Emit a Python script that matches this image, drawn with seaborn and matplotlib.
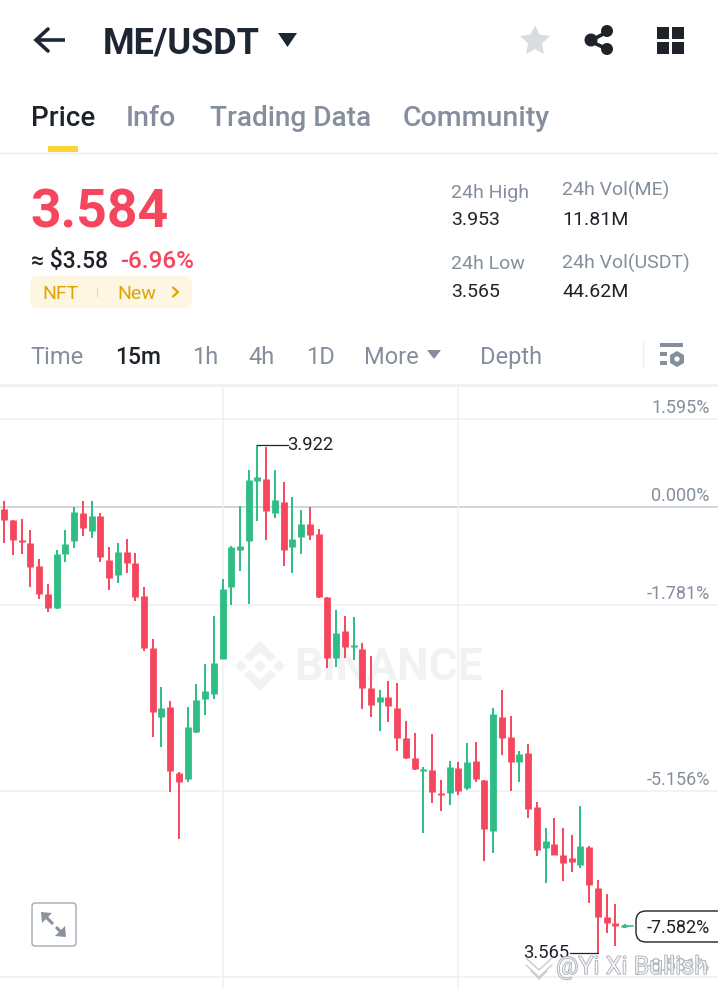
import pandas as pd
import seaborn as sns
import matplotlib.pyplot as plt
from matplotlib.patches import FancyBboxPatch, Polygon, Rectangle, Circle, RegularPolygon
import matplotlib.patheffects as pe

# ME/USDT 15m candles
opens = [3.8766, 3.8688, 3.8547, 3.8526, 3.8364, 3.8165, 3.8069, 3.8449, 3.8540, 3.8735, 3.8611, 3.8716,
         3.8407, 3.8299, 3.8465, 3.8386, 3.8156, 3.7785, 3.7304, 3.7372, 3.6909, 3.6865, 3.7193, 3.7426,
         3.7466, 3.7707, 3.8219, 3.8479, 3.8540, 3.8961, 3.8977, 3.8740, 3.8817, 3.8501, 3.8571, 3.8658,
         3.8587, 3.8144, 3.7717, 3.7904, 3.7796, 3.7782, 3.7503, 3.7405, 3.7442, 3.7362, 3.7151, 3.7010,
         3.6923, 3.6928, 3.6768, 3.6764, 3.6940, 3.6804, 3.6989, 3.6860, 3.6501, 3.7301, 3.7160, 3.6984,
         3.7050, 3.6667, 3.6381, 3.6409, 3.6327, 3.6306, 3.6261, 3.6388, 3.6095, 3.5893, 3.5853, 3.5820]
closes = [3.8691, 3.8550, 3.8536, 3.8360, 3.8170, 3.8069, 3.8447, 3.8517, 3.8747, 3.8630, 3.8716, 3.8430,
          3.8278, 3.8465, 3.8388, 3.8148, 3.7785, 3.7334, 3.7362, 3.6923, 3.6844, 3.7231, 3.7421, 3.7482,
          3.7681, 3.8205, 3.8496, 3.8508, 3.8968, 3.8989, 3.8752, 3.8827, 3.8479, 3.8557, 3.8658, 3.8580,
          3.8148, 3.7717, 3.7893, 3.7796, 3.7808, 3.7505, 3.7386, 3.7442, 3.7376, 3.7153, 3.7013, 3.6935,
          3.6935, 3.6773, 3.6752, 3.6949, 3.6783, 3.6982, 3.6862, 3.6512, 3.7322, 3.7156, 3.6984, 3.7041,
          3.6653, 3.6369, 3.6428, 3.6332, 3.6271, 3.6282, 3.6397, 3.6121, 3.5891, 3.5851, 3.5832, 3.5830]
highs = [3.8820, 3.8688, 3.8698, 3.8618, 3.8416, 3.8235, 3.8475, 3.8618, 3.8777, 3.8820, 3.8820, 3.8735,
         3.8496, 3.8526, 3.8557, 3.8456, 3.8214, 3.7853, 3.7512, 3.7412, 3.6916, 3.7369, 3.7531, 3.7672,
         3.8015, 3.8275, 3.8508, 3.8787, 3.9038, 3.9219, 3.9200, 3.9038, 3.8958, 3.8848, 3.8759, 3.8777,
         3.8627, 3.8144, 3.8052, 3.8015, 3.8003, 3.7822, 3.7733, 3.7489, 3.7552, 3.7543, 3.7271, 3.7191,
         3.6949, 3.7182, 3.6860, 3.6989, 3.6982, 3.7121, 3.7123, 3.6860, 3.7362, 3.7491, 3.7310, 3.7062,
         3.7109, 3.6700, 3.6517, 3.6588, 3.6517, 3.6468, 3.6677, 3.6397, 3.6156, 3.6055, 3.5984, 3.5832]
lows = [3.8529, 3.8440, 3.8449, 3.8219, 3.8130, 3.8038, 3.8059, 3.8390, 3.8489, 3.8578, 3.8559, 3.8390,
        3.8198, 3.8247, 3.8317, 3.8118, 3.7768, 3.7163, 3.7092, 3.6771, 3.6440, 3.6844, 3.7186, 3.7313,
        3.7426, 3.7707, 3.8087, 3.8327, 3.8099, 3.8681, 3.8550, 3.8700, 3.8367, 3.8317, 3.8449, 3.8550,
        3.8137, 3.7646, 3.7656, 3.7717, 3.7705, 3.7355, 3.7304, 3.7205, 3.7264, 3.7064, 3.7003, 3.6928,
        3.6482, 3.6693, 3.6642, 3.6684, 3.6752, 3.6785, 3.6841, 3.6290, 3.6341, 3.7034, 3.6782, 3.6841,
        3.6592, 3.6320, 3.6130, 3.6330, 3.6149, 3.6210, 3.6240, 3.5989, 3.5640, 3.5778, 3.5689, 3.5813]

base_price = 3.878
pct_levels = [1.595, 0.0, -1.781, -5.156, -8.531]
pct_labels = ['1.595%', '0.000%', '-1.781%', '-5.156%', '-8.531%']
grid_candles = [25, 52]
high_label = '3.922'
low_label = '3.565'
last_label = '-7.582%'

RED = '#F6465D'
GREEN = '#2EBD85'
DARK = '#1E2329'
GRAY = '#848E9C'
NAVY = '#1E2633'

sns.set_theme(style='white')
plt.rcParams['font.family'] = ['Roboto', 'Noto Sans', 'DejaVu Sans']

W, H = 718, 989
fig = plt.figure(figsize=(W / 100, H / 100), dpi=100, facecolor='white')

# page furniture is laid out in pixels
ui = fig.add_axes([0, 0, 1, 1], zorder=0)
ui.set_xlim(0, W)
ui.set_ylim(H, 0)
ui.axis('off')


def label(x, y, s, size, color=GRAY, weight='normal', ha='left', **kw):
    return ui.text(x, y, s, fontsize=size, color=color, fontweight=weight, ha=ha, va='baseline', **kw)


# header
ui.plot([37, 65], [40, 40], color=NAVY, lw=2.6, solid_capstyle='butt')
ui.plot([48, 36, 48], [29, 40, 51], color=NAVY, lw=2.6, solid_joinstyle='miter')
label(103, 53, 'ME/USDT', 26, NAVY, 'bold')
ui.add_patch(Polygon([[278, 33], [297, 33], [287.5, 47]], color=NAVY, lw=0))
ui.add_patch(Polygon([[535, 25], [539.5, 34.5], [550, 36], [542, 43.5], [544, 54], [535, 49], [526, 54], [528, 43.5],
                      [520, 36], [530.5, 34.5]], color='#D9DDE2', lw=0))
ui.plot([609, 590, 609], [31, 41, 50], color=DARK, lw=2.6)
for cx, cy, r in [(607, 31, 6), (591, 40, 6.5), (607, 49, 6)]:
    ui.add_patch(Circle((cx, cy), r, color=DARK, lw=0))
for gx, gy in [(657, 27), (672, 27), (657, 42), (672, 42)]:
    ui.add_patch(Rectangle((gx, gy), 11.5, 11.5, color=DARK, lw=0))

# tabs
label(31, 126, 'Price', 20, DARK, 'medium')
label(126, 126, 'Info', 20.5, GRAY, 'medium')
label(210, 126, 'Trading Data', 20.2, GRAY, 'medium')
label(403, 126, 'Community', 20.5, GRAY, 'medium')
ui.add_patch(Rectangle((48, 146), 30, 6, color='#FCD535', lw=0))
ui.plot([0, W], [152.5, 152.5], color='#EAECEF', lw=1)

# price block
label(30, 227, '3.584', 38.5, RED, 'bold')
label(31, 268, '≈ $3.58', 16.5, DARK, 'medium')
label(120, 268, '-6.96%', 17.5, RED, 'medium')
ui.add_patch(FancyBboxPatch((36, 282), 150, 20, boxstyle='round,pad=6,rounding_size=8', fc='#FDF6E3', ec='none'))
label(42, 299, 'NFT', 14, '#DFA400')
ui.plot([97, 97], [288, 296], color='#EFDDA8', lw=1)
label(117, 299, 'New', 14, '#DFA400')
ui.plot([173, 178, 173], [287.5, 292, 296.5], color='#DFA400', lw=1.6)

label(451, 198, '24h High', 14)
label(562, 196, '24h Vol(ME)', 14)
label(451, 225, '3.953', 14, DARK)
label(562, 225, '11.81M', 14, DARK)
label(451, 269, '24h Low', 14)
label(562, 269, '24h Vol(USDT)', 14)
label(451, 297, '3.565', 14, DARK)
label(562, 297, '44.62M', 14, DARK)

# interval row
label(30, 364, 'Time', 17)
label(115, 364, '15m', 16.5, DARK, 'medium')
label(192, 364, '1h', 17)
label(248, 364, '4h', 17)
label(306, 364, '1D', 17)
label(364, 364, 'More', 17)
ui.add_patch(Polygon([[427, 350], [441, 350], [434, 359]], color=GRAY, lw=0))
label(480, 364, 'Depth', 17)
ui.plot([643, 643], [342, 367], color='#EAECEF', lw=1)
ui.add_patch(Rectangle((660, 343), 23, 3.5, color=GRAY, lw=0))
ui.add_patch(Rectangle((660, 352), 7, 3.5, color=GRAY, lw=0))
ui.add_patch(Rectangle((660, 361), 7, 3.5, color=GRAY, lw=0))
ui.add_patch(RegularPolygon((677, 359), 6, radius=8, color=GRAY, lw=0))
ui.add_patch(Circle((677, 359), 2.6, color='white', lw=0))
ui.plot([0, W], [385, 385], color='#EEF0F2', lw=2)

# binance watermark behind the candles
WM = '#F1F2F4'
lx, ly = 260, 666
for dx, dy, r in [(0, 0, 6), (-19, 0, 6), (19, 0, 6)]:
    ui.add_patch(Polygon([[lx + dx - r, ly + dy], [lx + dx, ly + dy - r], [lx + dx + r, ly + dy], [lx + dx, ly + dy + r]],
                         color=WM, lw=0))
ui.add_patch(Polygon([[lx, ly - 25], [lx + 16, ly - 9], [lx + 10, ly - 4], [lx, ly - 14], [lx - 10, ly - 4], [lx - 16, ly - 9]],
                     color=WM, lw=0))
ui.add_patch(Polygon([[lx, ly + 25], [lx + 16, ly + 9], [lx + 10, ly + 4], [lx, ly + 14], [lx - 10, ly + 4], [lx - 16, ly + 9]],
                     color=WM, lw=0))
label(294, 680, 'BINANCE', 32, WM, 'bold')

# candles, the axes run from the pane top to the bottom of the page
candles = pd.DataFrame({'open': opens, 'high': highs, 'low': lows, 'close': closes})
candles['idx'] = candles.index
candles['dir'] = ['up' if c >= o else 'down' for o, c in zip(candles['open'], candles['close'])]
palette = {'up': GREEN, 'down': RED}

top_h = 1 - 385 / H
ax = fig.add_axes([0, 0, 1, top_h], zorder=1)
ax.patch.set_alpha(0)

for lev in pct_levels:
    price = base_price * (1 + lev / 100)
    ax.axhline(price, color='#D2D5D9' if lev == 0 else '#EEF0F2', lw=1.4 if lev == 0 else 1.1, zorder=0)
for c in grid_candles:
    ax.axvline(c, color='#EEF0F2', lw=1.1, zorder=0)

wicks = candles.melt(id_vars=['idx', 'dir'], value_vars=['high', 'low'], value_name='price')
bodies = candles.melt(id_vars=['idx', 'dir'], value_vars=['open', 'close'], value_name='price')
sns.lineplot(data=wicks, x='idx', y='price', units='idx', estimator=None, hue='dir', palette=palette,
             linewidth=1.4, solid_capstyle='butt', legend=False, ax=ax)
sns.lineplot(data=bodies, x='idx', y='price', units='idx', estimator=None, hue='dir', palette=palette,
             linewidth=4.9, solid_capstyle='butt', legend=False, ax=ax)

ax.set_xlim(-0.493, 81.75)
ax.set_ylim(3.5387, 3.9639)
ax.axis('off')

# high / low markers
i_hi = highs.index(max(highs))
i_lo = lows.index(min(lows))
ax.plot([i_hi, i_hi + 3.45], [highs[i_hi]] * 2, color=DARK, lw=0.9)
ax.annotate(high_label, (i_hi + 3.45, highs[i_hi]), xytext=(0, 0), textcoords='offset points', fontsize=13.2, color=DARK,
            va='center', ha='left')
ax.plot([i_lo, i_lo - 3.25], [lows[i_lo]] * 2, color=DARK, lw=0.9)
ax.annotate(low_label, (i_lo - 3.25, lows[i_lo]), xytext=(0, 0), textcoords='offset points', fontsize=13.2, color=DARK,
            va='center', ha='right')

# axis labels sit just above their gridlines, on the right edge
for lev, txt in zip(pct_levels, pct_labels):
    price = base_price * (1 + lev / 100)
    ax.annotate(txt, (1, price), xycoords=('axes fraction', 'data'), xytext=(-6, 4.5), textcoords='offset points',
                fontsize=13, color=GRAY if lev > -8 else '#B4BAC2', ha='right', va='baseline')

# last price tag
ax.plot([624, 633], [926, 926], color=GREEN, lw=1.2, zorder=6, transform=ui.transData)
ax.add_patch(Polygon([[621, 926], [626, 923.5], [626, 928.5]], color=GREEN, lw=0, transform=ui.transData, zorder=6))
tag = FancyBboxPatch((646, 921), 90, 11, boxstyle='round,pad=10,rounding_size=10', fc='white', ec=DARK, lw=1,
                     transform=ui.transData, zorder=7)
ax.add_patch(tag)
ax.text(647, 933, last_label, transform=ui.transData, fontsize=13, color=DARK, va='baseline', zorder=8)

# expand button
ICON = '#8A929E'
ui.add_patch(FancyBboxPatch((34, 905), 40, 39, boxstyle='round,pad=2,rounding_size=3', fc='white', ec='#A4ABB5', lw=1))
ui.plot([46, 53], [917, 924], color=ICON, lw=2.2, solid_capstyle='butt')
ui.plot([56, 63], [927, 934], color=ICON, lw=2.2, solid_capstyle='butt')
ui.add_patch(Polygon([[41, 912], [52, 913], [42, 923]], color=ICON, lw=0))
ui.add_patch(Polygon([[66, 937], [55, 936], [65, 926]], color=ICON, lw=0))

# square page watermark over everything
outline = [pe.withStroke(linewidth=0.9, foreground='#A6ACB4')]
ax.text(556, 974, '@Yi Xi Bullish', transform=ui.transData, fontsize=18, color=(1, 1, 1, 0.55), va='baseline', zorder=9,
        path_effects=outline)
for dy in [0, 7]:
    ax.plot([526, 539, 552], [958 + dy, 970 + dy, 958 + dy], color='#C8CCD1', lw=1, transform=ui.transData, zorder=9)
ax.plot([531, 539, 547], [971, 979, 971], color='#C8CCD1', lw=1, transform=ui.transData, zorder=9)
ax.set_xlim(-0.493, 81.75)
ax.set_ylim(3.5387, 3.9639)

fig.savefig('out.png', dpi=100)
plt.close(fig)
